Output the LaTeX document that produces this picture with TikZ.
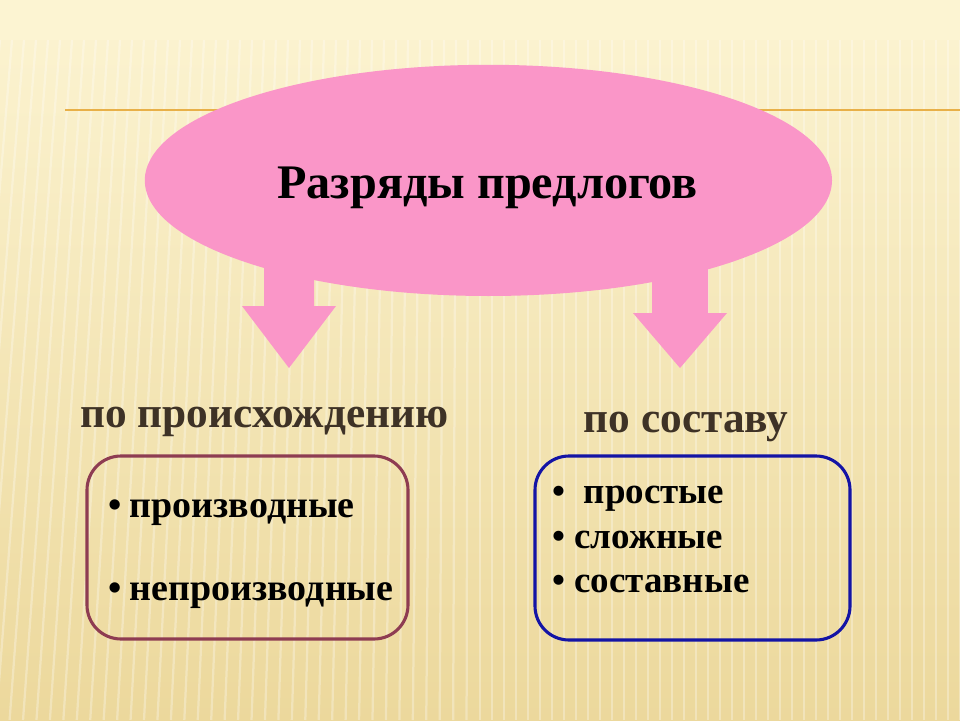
\documentclass[tikz,border=0pt]{standalone}
\usepackage{fontspec}
\setmainfont{Liberation Serif}
\definecolor{bgtop}{RGB}{252,244,210}
\definecolor{bgbottom}{RGB}{236,216,156}
\definecolor{ovalpink}{RGB}{250,150,200}
\definecolor{rulegold}{RGB}{232,176,72}
\definecolor{labelbrown}{RGB}{62,50,38}
\definecolor{boxmaroon}{RGB}{142,60,82}
\definecolor{boxblue}{RGB}{20,20,165}
\tikzset{
  heading/.style={font=\bfseries\fontsize{30.8}{34}\selectfont, text=labelbrown, inner sep=0pt},
  item/.style={font=\bfseries\fontsize{27}{31}\selectfont, inner sep=0pt, anchor=base west},
  smallitem/.style={font=\bfseries\fontsize{26.3}{29}\selectfont, inner sep=0pt, anchor=base west},
  listbox/.style={line width=2.2pt, rounded corners=0.85cm}
}
\begin{document}
\begin{tikzpicture}
        \useasboundingbox (0,0) rectangle (24,18);
        % background
        \shade[top color=bgtop, bottom color=bgbottom] (0,0) rectangle (24,18);
        \fill[bgtop] (0,17) rectangle (24,18);
        \foreach \x in {0,0.3,...,24.3}
            \draw[white, opacity=0.3, line width=1.6pt]
                (\x,17) -- ({\x-max(0,12-\x)*0.12},0);
        \draw[rulegold, line width=1.5pt] (1.625,15.25) -- (24,15.25);
        % arrows
        \coordinate (tipL) at (7.225,8.8);
        \coordinate (tipR) at (17,8.8);
        \fill[ovalpink] (tipL) -- ++(-1.175,1.55) -- ++(0.55,0) -- ++(0,1.65)
            -- ++(1.25,0) -- ++(0,-1.65) -- ++(0.55,0) -- cycle;
        \fill[ovalpink] (tipR) -- ++(-1.175,1.375) -- ++(0.475,0) -- ++(0,1.8)
            -- ++(1.4,0) -- ++(0,-1.8) -- ++(0.475,0) -- cycle;
        % oval
        \fill[ovalpink] (12.21,13.49) ellipse (8.59 and 2.89);
        \node[font=\bfseries\fontsize{34.3}{38}\selectfont, anchor=base, inner sep=0pt]
            (title) at (12.19,13.05) {Разряды предлогов};
        % headings
        \node[heading, anchor=base] (origin) at (6.61,7.325) {по происхождению};
        \node[heading, anchor=base] (composition) at (17.15,7.2) {по составу};
        % boxes
        \draw[listbox, boxmaroon] (2.175,2.025) rectangle (10.2,6.6);
        \draw[listbox, boxblue] (13.375,2.0) rectangle (21.25,6.6);
        \node[item] (derived) at (2.7,5.075) {\textbullet\hspace{0.22em}производные};
        \node[item] (underived) at (2.7,3.0) {\textbullet\hspace{0.22em}непроизводные};
        \node[smallitem] (simple) at (13.8,5.425) {\textbullet{}\ \ простые};
        \node[smallitem] (complex) at (13.8,4.3) {\textbullet{} сложные};
        \node[smallitem] (compound) at (13.8,3.2) {\textbullet{} составные};
    \end{tikzpicture}
\end{document}
